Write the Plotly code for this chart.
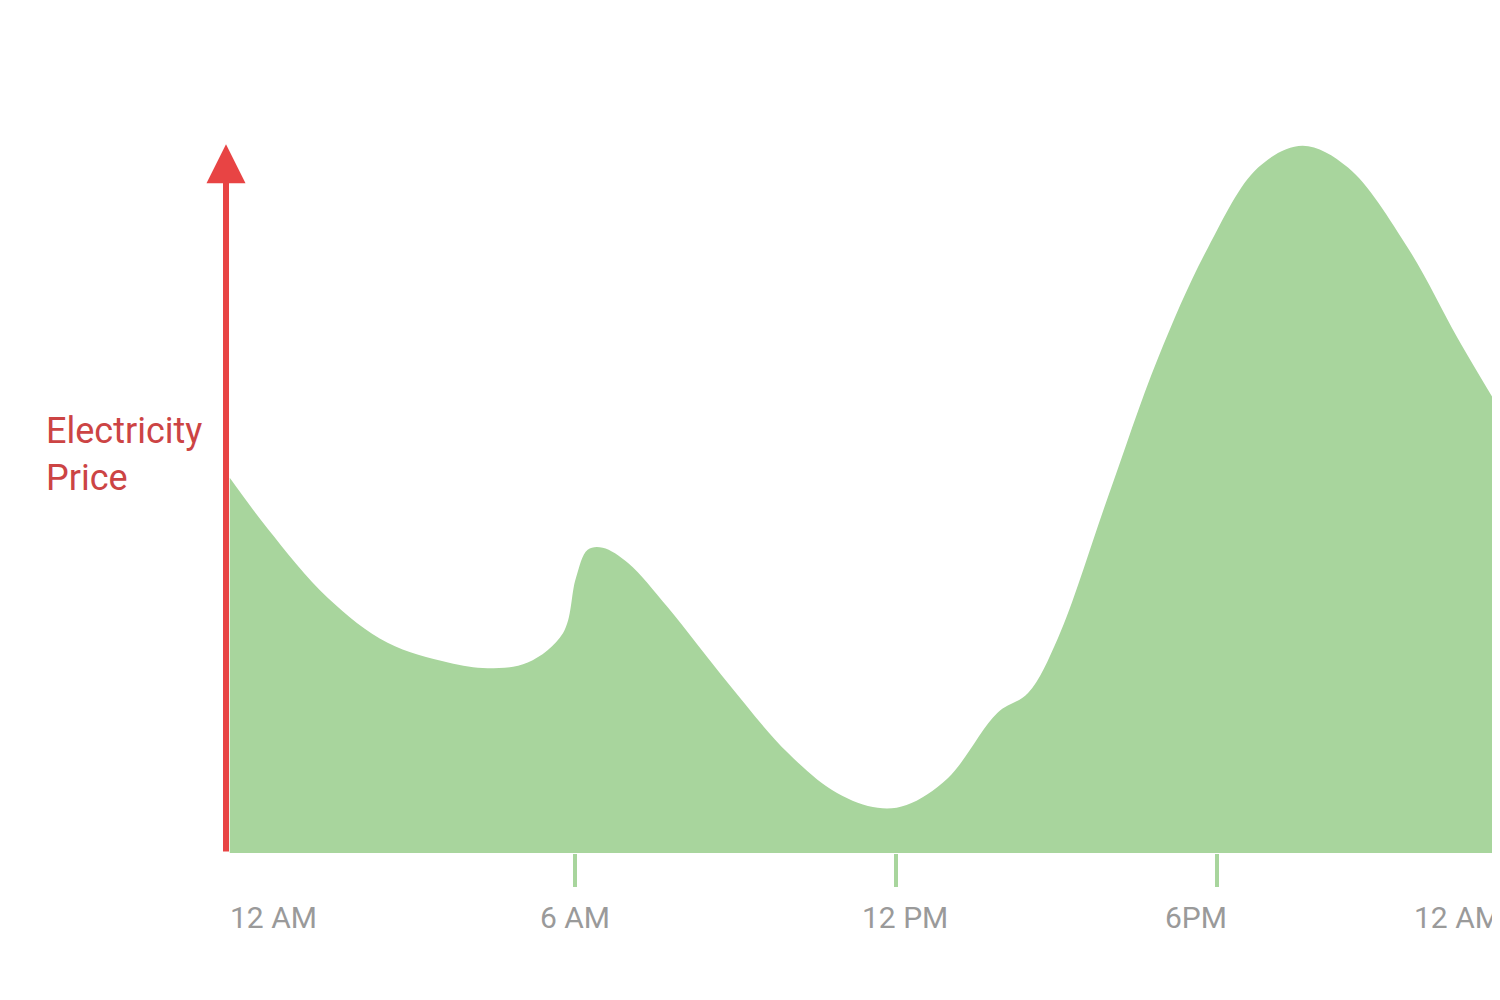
import plotly.graph_objects as go

hours = [-0.45,0.26,1.38,2.5,3.63,4.37,5.12,5.78,6.02,6.24,6.52,7.0,7.74,8.86,9.98,10.9,11.66,12.2,12.97,13.9,14.47,15.03,15.96,16.9,17.83,18.77,19.6,20.45,21.57,22.5,23.16]
price = [53.2,46,36.2,29.8,27,26.2,27,31.2,39,43,43.3,41.1,34.8,24.1,14.2,8.5,6.4,6.8,10.6,19.9,22.7,30.5,50.4,70.2,85.8,97.2,100.3,97.2,85.8,73,64.5]
tick_hours = [6,12,18]
label_pos = [0.37,6.0,12.17,17.6,22.5]
label_text = ["12 AM","6 AM","12 PM","6PM","12 AM"]

fig = go.Figure(go.Scatter(x=hours, y=price, mode="lines", line=dict(shape="spline", width=0, color="#a8d59d"),
                           fill="tozeroy", fillcolor="#a8d59d", hoverinfo="skip"))
fig.update_layout(width=1500, height=1000, margin=dict(l=218, r=15, t=130, b=155),
                  plot_bgcolor="white", paper_bgcolor="white", showlegend=False)
fig.update_xaxes(range=[-0.52, 23.16], tickvals=tick_hours, ticktext=["", "", ""], ticks="outside",
                 ticklen=33, tickwidth=4, tickcolor="#a8d59d", showgrid=False, zeroline=False, showline=False)
fig.update_yaxes(range=[0, 101.4], visible=False)
for p, t in zip(label_pos, label_text):
    fig.add_annotation(x=p, y=0, xref="x", yref="y", text=t, showarrow=False, yanchor="top", yshift=-45,
                       font=dict(family="Roboto", size=30, color="#9a9a9a"))
fig.add_annotation(x=-0.52, y=100.5, ax=-0.52, ay=0, xref="x", yref="y", axref="x", ayref="y", text="",
                   showarrow=True, arrowhead=2, arrowsize=1.3, arrowwidth=6, arrowcolor="#e84444")
fig.add_annotation(x=-0.52, y=56.5, xref="x", yref="y", text="Electricity<br>Price", showarrow=False,
                   xanchor="right", xshift=-22, align="left",
                   font=dict(family="Roboto", size=36, color="#cc4444"))
fig.write_html("out.html")
